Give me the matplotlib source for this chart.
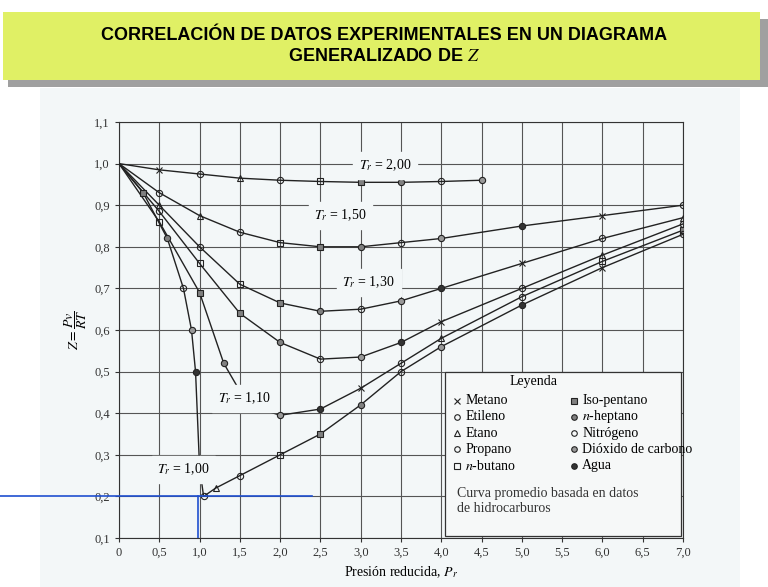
import matplotlib
matplotlib.use("Agg")
import matplotlib.pyplot as plt
from matplotlib.patches import Rectangle
import numpy as np

plt.rcParams['font.family'] = ['Liberation Serif', 'DejaVu Serif']
plt.rcParams['mathtext.fontset'] = 'stix'

tr_labels = ["2,00", "1,50", "1,30", "1,20", "1,10", "1,00"]
curves = {
    "2,00": ([0, 0.5, 1, 1.5, 2, 2.5, 3, 3.5, 4, 4.5],
             [1.0, 0.985, 0.975, 0.965, 0.96, 0.957, 0.955, 0.955, 0.957, 0.96]),
    "1,50": ([0, 0.5, 1, 1.5, 2, 2.5, 3, 3.5, 4, 5, 6, 7],
             [1.0, 0.93, 0.875, 0.835, 0.81, 0.8, 0.8, 0.81, 0.82, 0.85, 0.875, 0.9]),
    "1,30": ([0, 0.5, 1, 1.5, 2, 2.5, 3, 3.5, 4, 5, 6, 7],
             [1.0, 0.9, 0.8, 0.71, 0.665, 0.645, 0.65, 0.67, 0.7, 0.76, 0.82, 0.87]),
    "1,20": ([0, 0.5, 1, 1.5, 2, 2.5, 3, 3.5, 4, 5, 6, 7],
             [1.0, 0.885, 0.76, 0.64, 0.57, 0.53, 0.535, 0.57, 0.62, 0.7, 0.78, 0.855]),
    "1,10": ([0, 0.5, 1, 1.3, 1.6, 2, 2.5, 3, 3.5, 4, 5, 6, 7],
             [1.0, 0.86, 0.69, 0.52, 0.42, 0.395, 0.41, 0.46, 0.52, 0.58, 0.68, 0.765, 0.84]),
    "1,00": ([0, 0.3, 0.6, 0.8, 0.9, 0.95, 1.0, 1.05, 1.2, 1.5, 2, 2.5, 3, 3.5, 4, 5, 6, 7],
             [1.0, 0.93, 0.82, 0.7, 0.6, 0.5, 0.27, 0.2, 0.22, 0.25, 0.3, 0.35, 0.42, 0.5, 0.56, 0.66, 0.75, 0.83]),
}
label_pos = {"2,00": (3.3, 0.995), "1,50": (2.75, 0.875), "1,30": (3.1, 0.715),
             "1,10": (1.55, 0.435), "1,00": (0.8, 0.265)}
gases = ["Metano", "Etileno", "Etano", "Propano", "$n$-butano",
         "Iso-pentano", "$n$-heptano", "Nitrógeno", "Dióxido de carbono", "Agua"]
markers = ["x", "o", "^", "o", "s", "s", "o", "o", "o", "o"]
fills = ["k", "none", "none", "none", "none", "0.5", "0.5", "none", "0.6", "0.2"]

fig = plt.figure(figsize=(7.68, 5.87), dpi=100)
fig.patch.set_facecolor("white")
fig.patches.append(Rectangle((40/768, 0), 700/768, 499/587, transform=fig.transFigure,
                             facecolor="#f3f7f8", edgecolor="none", zorder=-5))
fig.patches.append(Rectangle((8/768, 500/587), 760/768, 68/587, transform=fig.transFigure,
                             facecolor="#a0a0a0", edgecolor="none"))
fig.patches.append(Rectangle((3/768, 507/587), 757/768, 68/587, transform=fig.transFigure,
                             facecolor="#e0f065", edgecolor="none"))
fig.text(0.5, 541/587, "CORRELACIÓN DE DATOS EXPERIMENTALES EN UN DIAGRAMA\nGENERALIZADO DE $Z$",
         ha="center", va="center", fontsize=13, fontweight="bold",
         family=["Liberation Sans Narrow", "Liberation Sans"], linespacing=1.3)

ax = fig.add_axes([119/768, 49/587, 564/768, 416/587])
ax.set_facecolor("#f3f7f8")
ax.set_xlim(0, 7.0)
ax.set_ylim(0.1, 1.1)
ax.set_xticks(np.arange(0, 7.01, 0.5))
ax.set_xticklabels(["0", "0,5", "1,0", "1,5", "2,0", "2,5", "3,0", "3,5", "4,0", "4,5",
                    "5,0", "5,5", "6,0", "6,5", "7,0"])
ax.set_yticks(np.arange(0.1, 1.11, 0.1))
ax.set_yticklabels(["0,1", "0,2", "0,3", "0,4", "0,5", "0,6", "0,7", "0,8", "0,9", "1,0", "1,1"])
ax.grid(True, color="#555555", lw=0.8)
ax.tick_params(labelsize=9, colors="#333333", length=3)
for s in ax.spines.values():
    s.set_color("#333333")

for k, lab in enumerate(tr_labels):
    x, y = curves[lab]
    ax.plot(x, y, color="#222222", lw=1.0, zorder=3)
    xs = np.array(x[1:]); ys = np.array(y[1:])
    for i, (px, py) in enumerate(zip(xs, ys)):
        g = (i + k) % 10
        ax.plot(px, py, marker=markers[g], ms=4.5, mfc=fills[g], mec="#222222",
                mew=0.8, color="none", zorder=4)
    if lab in label_pos:
        lx, ly = label_pos[lab]
        ax.text(lx, ly, "$T_r$ = " + lab, fontsize=10, ha="center", va="center",
                backgroundcolor="#f3f7f8", zorder=5)

# blue guide lines
ax.plot([-2, 2.4], [0.2, 0.2], color="#1f4fd0", lw=1.2, clip_on=False, zorder=6)
ax.plot([0.98, 0.98], [0.1, 0.2], color="#1f4fd0", lw=1.2, zorder=6)

# legend box
ax.add_patch(Rectangle((4.05, 0.105), 2.93, 0.395, facecolor="#f6f8f8",
                       edgecolor="#333333", lw=0.9, zorder=7))
ax.text(5.15, 0.475, "Leyenda", fontsize=10, ha="center", va="center", zorder=8)
for i, g in enumerate(gases):
    col = i // 5; row = i % 5
    x0 = 4.2 + col * 1.45
    y0 = 0.43 - row * 0.039
    ax.plot(x0, y0, marker=markers[i], ms=4, mfc=fills[i], mec="#222222", mew=0.8,
            zorder=8)
    ax.text(x0 + 0.1, y0, g, fontsize=10, va="center", zorder=8)
ax.text(4.2, 0.19, "Curva promedio basada en datos\nde hidrocarburos", fontsize=10,
        va="center", zorder=8, linespacing=1.2, color="#333333")

ax.set_xlabel("Presión reducida, $P_r$", fontsize=10)
ax.set_ylabel(r"$Z = \dfrac{Pv}{RT}$", fontsize=10)
fig.savefig("out.png", dpi=100)
